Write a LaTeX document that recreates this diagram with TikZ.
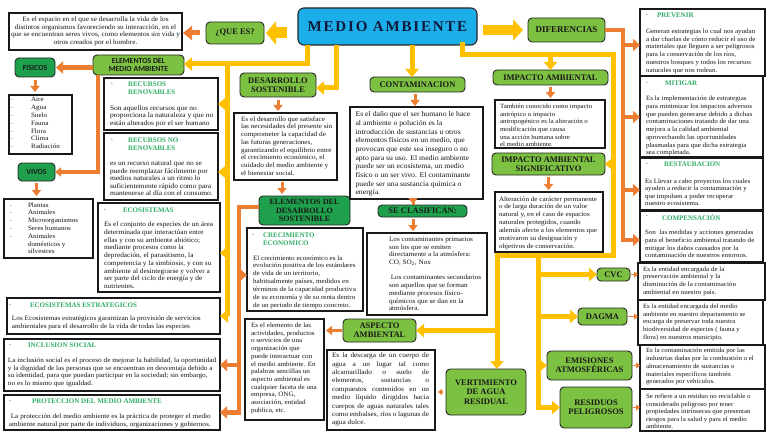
\documentclass[tikz,border=0pt]{standalone}
\usepackage{fontspec}
\setmainfont{Liberation Serif}
\newfontfamily\bodyf[FakeStretch=1.08]{Liberation Serif}
\newfontfamily\lblf{Liberation Serif}
\newfontfamily\sansf{Carlito}
\newfontfamily\titlef[LetterSpace=12]{Liberation Serif}
\usetikzlibrary{arrows.meta}
\definecolor{lgreen}{HTML}{7DC142}
\definecolor{dgreen}{HTML}{1FA04C}
\definecolor{cyanc}{HTML}{1CAEE8}
\definecolor{orng}{HTML}{ED7D31}
\definecolor{ygold}{HTML}{FFC000}
\definecolor{hgreen}{HTML}{2EAD64}
\definecolor{ttlnavy}{HTML}{0E1A3C}
\definecolor{txtc}{HTML}{141414}
\definecolor{bulc}{HTML}{5BA98A}
\newcommand{\mkbox}[5]{\node[dbox, anchor=north west, minimum width={#4-#2}, minimum height={#5-#3}] (#1) at (#2,#3) {};}
\newcommand{\mklab}[7]{\node[#1, anchor=north west, minimum width={#5-#3}, minimum height={#6-#4}] (#2) at (#3,#4) {#7};}
\newcommand{\blt}[1]{\makebox[#1pt][l]{\textcolor{bulc}{\fontsize{4.5}{4.5}\selectfont\textbullet}}}
\newcommand{\jline}[1]{\makebox[97pt][s]{#1}}
\begin{document}
\begin{tikzpicture}[x=1pt,y=-1pt,
 dbox/.style={draw=black!90, line width=1.3pt, fill=white, inner sep=0pt, outer sep=0pt},
 lab/.style={draw=black!85, line width=0.9pt, rounded corners=4pt, fill=lgreen, align=center, inner sep=1pt, outer sep=0pt, text=black!90, font=\lblf\bfseries\fontsize{8.5}{9.3}\selectfont},
 dlab/.style={lab, fill=dgreen},
 slab/.style={lab, font=\sansf\bfseries\fontsize{7.8}{8.6}\selectfont},
 sdlab/.style={slab, fill=dgreen},
 ttl/.style={lab, fill=cyanc, rounded corners=6pt, line width=1.1pt, text=ttlnavy, font=\titlef\bfseries\fontsize{15}{16}\selectfont},
 tx/.style={inner sep=0pt, outer sep=0pt, anchor=north west, align=left, text=txtc, font=\bodyf\fontsize{6.7}{7.7}\selectfont},
 fs/.style 2 args={font=\bodyf\fontsize{#1}{#2}\selectfont},
 hd/.style={inner sep=0pt, outer sep=0pt, anchor=north west, align=left, text=hgreen, font=\lblf\bfseries\fontsize{7}{8.7}\selectfont},
 bul/.style={inner sep=0pt, text=black!55, font=\fontsize{5}{5}\selectfont},
 oarr/.style={draw=orng, line width=3pt, -{Triangle[width=9pt,length=6pt]}},
 obig/.style={draw=orng, line width=4.5pt, -{Triangle[width=12pt,length=7pt]}},
 osm/.style={draw=orng, line width=1.8pt, -{Triangle[width=6pt,length=4pt]}},
 yline/.style={draw=ygold, line width=5pt, line cap=rect},
 yarr/.style={draw=ygold, line width=5pt, -{Triangle[width=13pt,length=8pt]}},
]
\fill[white] (0,0) rectangle (768,433);
\useasboundingbox (0,0) rectangle (768,433);

% ---------- label nodes ----------
\mklab{ttl}{ma}{298}{8}{477}{45}{MEDIO AMBIENTE}
\mklab{lab}{quees}{206}{22}{264}{44}{¿QUE ES?}
\mklab{lab,font=\lblf\bfseries\fontsize{9}{10}\selectfont}{dif}{528}{18}{605}{42}{DIFERENCIAS}
\mklab{slab}{elma}{93}{55}{184}{75}{ELEMENTOS DEL\\MEDIO AMBIENTE}
\mklab{sdlab}{fis}{15}{58}{55}{77}{FISICOS}
\mklab{sdlab}{vivos}{18}{163}{55}{181}{VIVOS}
\mklab{lab}{ds}{240}{73}{316}{97}{DESARROLLO\\SOSTENIBLE}
\mklab{dlab,font=\lblf\bfseries\fontsize{8.1}{8.5}\selectfont}{elds}{259}{196}{350}{225}{ELEMENTOS DEL\\DESARROLLO\\SOSTENIBLE}
\mklab{lab}{cont}{370}{77}{465}{92}{CONTAMINACION}
\mklab{dlab}{secl}{378}{205}{467}{217}{SE CLASIFICAN:}
\mklab{lab}{imp}{493}{70}{608}{85}{IMPACTO AMBIENTAL}
\mklab{lab}{imps}{492}{153}{605}{175}{IMPACTO AMBIENTAL\\SIGNIFICATIVO}
\mklab{lab}{asp}{343}{319}{416}{342}{ASPECTO\\AMBIENTAL}
\mklab{lab,font=\lblf\bfseries\fontsize{8.5}{9.5}\selectfont}{vert}{446}{369}{526}{415}{VERTIMIENTO\\DE AGUA\\RESIDUAL}
\mklab{lab}{cvc}{597}{268}{630}{281}{CVC}
\mklab{lab}{dagma}{578}{308}{627}{325}{DAGMA}
\mklab{lab}{emi}{547}{351}{632}{380}{EMISIONES\\ATMOSFÉRICAS}
\mklab{lab}{resid}{560}{387}{632}{428}{RESIDUOS\\PELIGROSOS}

% ---------- description boxes ----------
\mkbox{quedesc}{9}{13}{182}{50}
\mkbox{fislist}{9}{95}{72}{154}
\mkbox{vivlist}{4}{199}{93}{258}
\mkbox{renov}{104}{78}{218}{130}
\mkbox{norenov}{104}{133}{218}{200}
\mkbox{ecos}{98}{203}{220}{292}
\mkbox{ecoest}{7}{298}{220}{334}
\mkbox{incl}{4}{339}{220}{391}
\mkbox{prot}{4}{395}{220}{430}
\mkbox{dsdesc}{234}{113}{337}{180}
\mkbox{crec}{247}{228}{363}{311}
\mkbox{aspdesc}{245}{319}{324}{420}
\mkbox{vertdesc}{327}{350}{435}{430}
\mkbox{contdesc}{350}{107}{483}{199}
\mkbox{secldesc}{367}{233}{487}{315}
\mkbox{impdesc}{495}{100}{605}{148}
\mkbox{impsdesc}{495}{192}{603}{252}
\mkbox{prev}{640}{9}{765}{76}
\mkbox{mit}{640}{76}{763}{157}
\mkbox{rest}{640}{158}{763}{210}
\mkbox{comp}{640}{211}{763}{262}
\mkbox{cvcdesc}{638}{263}{765}{300}
\mkbox{dagdesc}{638}{300}{763}{345}
\mkbox{emidesc}{640}{345}{765}{389}
\mkbox{resdesc}{640}{389}{765}{431}

% ---------- texts ----------
\node[tx, anchor=center, align=center, fs={6.8}{7.6}] (quedescT) at (quedesc.center) {Es el espacio en el que se desarrolla la vida de los\\distintos organismos favoreciendo su interacción, en el\\que se encuentran seres vivos, como elementos sin vida y\\otros creados por el hombre.};

\node[tx, fs={6.6}{7.8}] (fislistT) at (11,97.5) {\blt{20}Aire\\\blt{20}Agua\\\blt{20}Suelo\\\blt{20}Fauna\\\blt{20}Flora\\\blt{20}Clima\\\blt{20}Radiación};
\node[tx, fs={6.6}{7.8}] (vivlistT) at (10,202.5) {\blt{18}Plantas\\\blt{18}Animales\\\blt{18}Microorganismos\\\blt{18}Seres humanos\\\blt{18}Animales\\\hspace*{18pt}domésticos y\\\hspace*{18pt}silvestres};

\node[bul] (renovB) at (112,84) {\textbullet};
\node[hd] (renovH) at (128,81.5) {RECURSOS\\RENOVABLES};
\node[tx, fs={6.9}{7.6}] (renovT) at (110,105.5) {Son aquellos recursos que no\\proporciona la naturaleza y que no\\están alterados por el ser humano};

\node[bul] (norenovB) at (112,140) {\textbullet};
\node[hd] (norenovH) at (128,137.5) {RECURSOS NO\\RENOVABLES};
\node[tx, fs={6.9}{7.5}] (norenovT) at (110,161) {es un recurso natural que no se\\puede reemplazar fácilmente por\\medios naturales a un ritmo lo\\suficientemente rápido como para\\mantenerse al día con el consumo.};

\node[bul] (ecosB) at (105,210) {\textbullet};
\node[hd] (ecosH) at (123,207.5) {ECOSISTEMAS};
\node[tx, fs={6.8}{7.75}] (ecosT) at (104,222) {Es el conjunto de especies de un área\\determinada que interactúan entre\\ellas y con su ambiente abiótico;\\mediante procesos como la\\depredación, el parasitismo, la\\competencia y la simbiosis, y con su\\ambiente al desintegrarse y volver a\\ser parte del ciclo de energía y de\\nutrientes.};

\node[bul] (ecoestB) at (10,305.7) {\textbullet};
\node[hd] (ecoestH) at (30,303) {ECOSISTEMAS ESTRATEGICOS};
\node[tx, fs={6.7}{7.4}] (ecoestT) at (12,316) {Los Ecosistemas estratégicos garantizan la provisión de servicios\\ambientales para el desarrollo de la vida de todas las especies};

\node[bul] (inclB) at (10,345) {\textbullet};
\node[hd] (inclH) at (28,342.5) {INCLUSION SOCIAL};
\node[tx, fs={6.7}{7.6}] (inclT) at (8,358) {La inclusión social es el proceso de mejorar la habilidad, la oportunidad\\y la dignidad de las personas que se encuentran en desventaja debido a\\su identidad, para que puedan participar en la sociedad; sin embargo,\\no es lo mismo que igualdad.};

\node[bul] (protB) at (10,401) {\textbullet};
\node[hd] (protH) at (32,398.5) {PROTECCION DEL MEDIO AMBIENTE};
\node[tx, fs={6.7}{7.6}] (protT) at (9,414) {\ La protección del medio ambiente es la práctica de proteger el medio\\ambiente natural por parte de individuos, organizaciones y gobiernos.};

\node[tx, fs={6.7}{7.7}] (dsdescT) at (241,116.5) {Es el desarrollo que satisface\\las necesidades del presente sin\\comprometer la capacidad de\\las futuras generaciones,\\garantizando el equilibrio entre\\el crecimiento económico, el\\cuidado del medio ambiente y\\el bienestar social.};

\node[bul] (crecB) at (253,235) {\textbullet};
\node[hd] (crecH) at (263,232.5) {CRECIMIENTO\\ECONOMICO};
\node[tx, fs={6.6}{7.9}] (crecT) at (253,255.5) {El crecimiento económico es la\\evolución positiva de los estándares\\de vida de un territorio,\\habitualmente países, medidos en\\términos de la capacidad productiva\\de su economía y de su renta dentro\\de un periodo de tiempo concreto.};

\node[tx, fs={6.6}{7.7}] (aspdescT) at (251,323) {Es el elemento de las\\actividades, productos\\o servicios de una\\organización que\\puede interactuar con\\el medio ambiente. En\\palabras sencillas un\\aspecto ambiental es\\cualquier faceta de una\\empresa, ONG,\\asociación, entidad\\publica, etc.};

\node[tx, fs={6.8}{8.4}] (vertdescT) at (332,353) {\jline{Es la descarga de un cuerpo de}\\\jline{agua a un lugar tal como}\\\jline{alcantarillado o suelo de}\\\jline{elementos, sustancias o}\\\jline{compuestos contenidos en un}\\\jline{medio líquido dirigidos hacia}\\\jline{cuerpos de aguas naturales tales}\\\jline{como embalses, ríos o lagunas de}\\agua dulce.};

\node[tx, fs={7.2}{8.63}] (contdescT) at (355.5,112) {Es el daño que el ser humano le hace\\al ambiente o polución es la\\introducción de sustancias u otros\\elementos físicos en un medio, que\\provocan que este sea inseguro o no\\apto para su uso. El medio ambiente\\puede ser un ecosistema, un medio\\físico o un ser vivo. El contaminante\\puede ser una sustancia química o\\energía.};

\node[tx, fs={6.7}{7.7}] (secldescT) at (389,237) {Los contaminantes primarios\\son los que se emiten\\directamente a la atmósfera:\\CO, SO\textsubscript{2}, Nox\\\mbox{}\\\ Los contaminantes secundarios\\son aquellos que se forman\\mediante procesos físico-\\químicos que se dan en la\\atmósfera.};

\node[tx, fs={6.4}{7.7}] (impdescT) at (500,104) {También conocido como impacto\\antrópico o impacto\\antropogénico es la alteración o\\modificación que causa\\una acción humana sobre\\el medio ambiente.};

\node[tx, fs={6.6}{7.9}] (impsdescT) at (499,196.5) {Alteración de carácter permanente\\o de larga duración de un valor\\natural y, en el caso de espacios\\naturales protegidos, cuando\\además afecte a los elementos que\\motivaron su designación y\\objetivos de conservación.};

\node[bul] (prevB) at (647,15) {\textbullet};
\node[hd] (prevH) at (657,12.5) {PREVENIR};
\node[tx, fs={6.5}{7.7}] (prevT) at (646,29) {Generan estrategias lo cual nos ayudan\\a dar charlas de cómo reducir el uso de\\materiales que lleguen a ser peligrosos\\para la conservación de los ríos,\\nuestros bosques y todos los recursos\\naturales que nos rodean.};

\node[bul] (mitB) at (647,83) {\textbullet};
\node[hd] (mitH) at (665,80.5) {MITIGAR};
\node[tx, fs={6.5}{7.75}] (mitT) at (646,96) {Es la implementación de estrategias\\para minimizar los impactos adversos\\que pueden generarse debido a dichas\\contaminaciones tratando de dar una\\mejora a la calidad ambiental\\aprovechando las oportunidades\\plasmadas para que dicha estrategia\\sea completada.};

\node[bul] (restB) at (647,164) {\textbullet};
\node[hd] (restH) at (664,161.5) {RESTAURACION};
\node[tx, fs={6.5}{7.3}] (restT) at (645,179) {Es Llevar a cabo proyectos los cuales\\ayuden a reducir la contaminación y\\que impulsen a poder recuperar\\nuestro ecosistema.};

\node[bul] (compB) at (647,216.7) {\textbullet};
\node[hd] (compH) at (662,214) {COMPENSACIÓN};
\node[tx, fs={6.5}{7.8}] (compT) at (645,230) {Son\ \ las medidas y acciones generadas\\para el beneficio ambiental tratando de\\mitigar los daños causados por la\\contaminación de nuestros entornos.};

\node[tx, fs={6.5}{7.7}] (cvcdescT) at (643,266.5) {Es la entidad encargada de la\\preservación ambiental y la\\disminución de la contaminación\\ambiental en nuestro país.};
\node[tx, fs={6.4}{7.75}] (dagdescT) at (643,304) {Es la entidad encargada del medio\\ambiente en nuestro departamento se\\encarga de preservar toda nuestra\\biodiversidad de especies ( fauna y\\flora) en nuestros municipio.};
\node[tx, fs={6.4}{7.75}] (emidescT) at (646,348.5) {Es la contaminación emitida por las\\industrias dadas por la combustión o el\\almacenamiento de sustancias o\\materiales específicos también\\generados por vehículos.};
\node[tx, fs={6.4}{7.6}] (resdescT) at (646,394) {Se refiere a un residuo no reciclable o\\considerado peligroso por tener\\propiedades intrínsecas que presentan\\riesgos para la salud y para el medio\\ambiente.};

% ---------- junction coordinates ----------
\coordinate (yA) at (307,64);
\coordinate (yB) at (227,64);
\coordinate (yC) at (227,172);
\coordinate (yE) at (227,253);
\coordinate (yD) at (336,88);
\coordinate (xC) at (412,60);
\coordinate (yR0) at (462,55);
\coordinate (yR1) at (613,55);
\coordinate (yR2) at (613,255);
\coordinate (yR3) at (497,255);
\coordinate (yR4) at (538,255);
\coordinate (oV) at (98,172);
\coordinate (oX) at (282,185);
\coordinate (oE) at (239,207);
\coordinate (oC) at (239,275);
\coordinate (oK) at (415,100);
\coordinate (oS) at (413,211);
\coordinate (oD) at (623,30);
\coordinate (oD1) at (623,45);
\coordinate (oD2) at (623,117);
\coordinate (oD3) at (623,190);
\coordinate (oD4) at (623,240);

% ---------- yellow connectors ----------
\draw[draw=ygold, line width=11pt, -{Triangle[width=23pt,length=10pt]}, shorten <=11pt, shorten >=2pt] (ma.west |- quees.east) -- (quees.east);
\draw[draw=ygold, line width=10pt, -{Triangle[width=21pt,length=10pt]}, shorten <=6pt, shorten >=5pt] (ma.east |- dif.west) -- (dif.west);
\draw[yarr] (ma.south -| yA) -- (yA) -- (yA -| elma.east);
\draw[yarr] (yB) |- (ecoest.east);
\draw[yarr] (yB |- renov.east) -- (renov.east);
\draw[yarr] (yC) -- (yC -| norenov.east);
\draw[yarr] (yE) -- (yE -| ecos.east);
\draw[yarr] (ma.south -| yD) -- (yD) -- (yD -| ds.east);
\draw[yarr] (ma.south -| xC) -- (cont.north -| xC);
\draw[yline] (ma.south -| yR0) -- (yR0) -- (yR1) -- (yR2) -- (yR3);
\draw[yarr] (yR0 -| imp.north) -- (imp.north);
\draw[yarr] (yR1 |- imps.east) -- (imps.east);
\draw[yarr] (yR3) -- (yR3 |- vert.north);
\draw[yarr] (yR3 |- asp.east) -- (asp.east);
\draw[yarr] (yR4) |- (resid.west);
\draw[yarr] (yR4 |- cvc.west) -- (cvc.west);
\draw[yarr] (yR4 |- dagma.west) -- (dagma.west);
\draw[yarr] (yR4 |- emi.west) -- (emi.west);

% ---------- orange connectors ----------
\draw[draw=orng, line width=5pt, -{Triangle[width=14pt,length=9pt]}, shorten <=6pt, shorten >=1pt] (quees.west) -- (quedesc.east |- quees.west);
\draw[obig, shorten >=1pt] (elma.west |- fis.east) -- (fis.east);
\draw[oarr, line width=3.5pt] (elma.south -| oV) -- (oV) -- (oV -| vivos.east);
\draw[oarr, shorten <=3pt, shorten >=3pt] (fis.south) -- (fis.south |- fislist.north);
\draw[oarr, shorten <=2pt, shorten >=3pt] (vivos.south) -- (vivos.south |- vivlist.north);
\draw[oarr, shorten <=3pt, shorten >=2pt] (ds.south) -- (ds.south |- dsdesc.north);
\draw[oarr, shorten <=2pt, shorten >=2pt] (dsdesc.south -| oX) -- (elds.north -| oX);
\draw[obig] (elds.west |- oE) -- (oE) |- (prot.east);
\draw[obig] (oE |- incl.east) -- (incl.east);
\draw[obig] (oC) -- (oC -| crec.west);
\draw[oarr, shorten <=1pt, shorten >=2pt] (asp.west) -- (aspdesc.east |- asp.west);
\draw[osm, shorten <=3pt, shorten >=3pt] (vert.west) -- (vertdesc.east |- vert.west);
\draw[oarr, shorten <=2pt, shorten >=1pt] (cont.south -| oK) -- (contdesc.north -| oK);
\draw[oarr, shorten <=-6pt, shorten >=1pt] (contdesc.south -| oS) -- (secl.north -| oS);
\draw[oarr, shorten <=2pt, shorten >=2pt] (secl.south -| oS) -- (secldesc.north -| oS);
\draw[oarr, shorten <=2pt, shorten >=2pt] (imp.south) -- (imp.south |- impdesc.north);
\draw[oarr, shorten <=2pt, shorten >=2pt] (imps.south) -- (imps.south |- impsdesc.north);
\draw[obig] (dif.east) -- (oD) -- (oD4) -- (oD4 -| comp.west);
\draw[obig] (oD1) -- (oD1 -| prev.west);
\draw[obig] (oD2) -- (oD2 -| mit.west);
\draw[obig] (oD3) -- (oD3 -| rest.west);
\draw[osm, shorten <=1pt] (cvc.east) -- (cvcdesc.west |- cvc.east);
\draw[osm, shorten <=1pt] (dagma.east) -- (dagdesc.west |- dagma.east);
\draw[osm, shorten <=1pt] (emi.east) -- (emidesc.west |- emi.east);
\draw[osm, shorten <=1pt] (resid.east) -- (resdesc.west |- resid.east);
\end{tikzpicture}
\end{document}
